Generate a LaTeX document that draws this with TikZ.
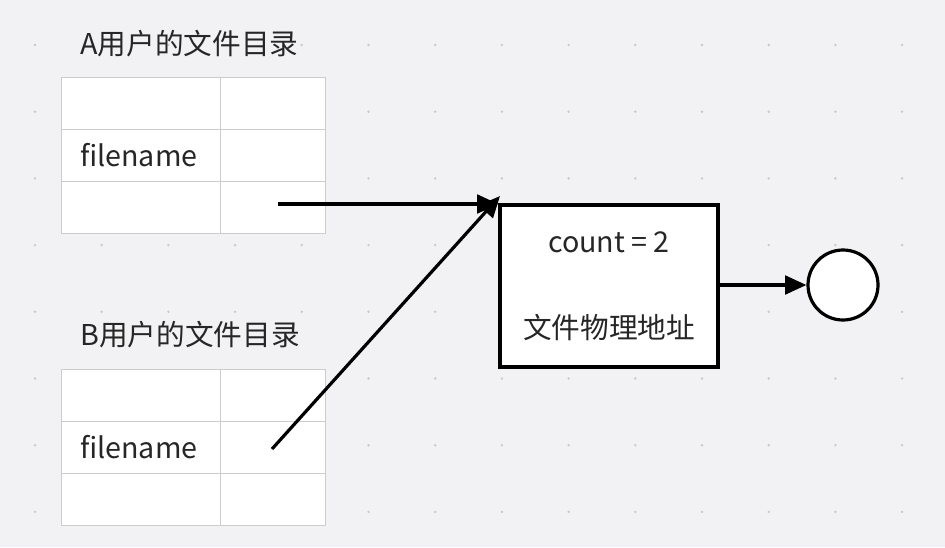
\documentclass[tikz,border=0pt]{standalone}
\usepackage{fontspec}
\setmainfont{Noto Sans CJK SC}
\usetikzlibrary{arrows.meta}
\definecolor{bg}{HTML}{F2F2F4}
\definecolor{grid}{HTML}{CCCCCC}
\definecolor{dotc}{HTML}{C8C8CC}
\tikzset{
  cell/.style={draw=grid,line width=0.75pt},
  lbl/.style={font=\fontsize{21.5}{24}\selectfont,text=black!85,inner sep=0pt},
  conn/.style={line width=2.4pt,-{Triangle[length=16pt,width=14pt]}},
}
\begin{document}
\begin{tikzpicture}[x=0.75pt,y=-0.75pt]
\fill[bg] (0,0) rectangle (945,547);
\useasboundingbox (0,0) rectangle (945,547);
\foreach \i in {0,...,13}{\foreach \j in {0,...,7}{
  \fill[dotc] (35+66.7*\i,45+66.7*\j) circle (1pt);}}
% table A
\fill[white] (61,77) rectangle (325,233);
\draw[cell] (61,77) rectangle (325,233);
\draw[cell] (220,77) -- (220,233) (61,129) -- (325,129) (61,181) -- (325,181);
\node[lbl,anchor=west] (ta) at (80,44) {A用户的文件目录};
\node[lbl,anchor=west] (fa) at (80,155) {filename};
\coordinate (sa) at (278,204);
% table B
\fill[white] (61,369) rectangle (325,525);
\draw[cell] (61,369) rectangle (325,525);
\draw[cell] (220,369) -- (220,525) (61,421) -- (325,421) (61,473) -- (325,473);
\node[lbl,anchor=west] (tb) at (80,335) {B用户的文件目录};
\node[lbl,anchor=west] (fb) at (80,447) {filename};
\coordinate (sb) at (272,449);
% box
\node[draw=black,line width=2.4pt,fill=white,minimum width=218*0.75pt,minimum height=162*0.75pt,inner sep=0pt] (box) at (609,286) {};
\node[lbl] (cnt) at (609,242) {count = 2};
\node[lbl] (addr) at (609,327) {文件物理地址};
\node[draw=black,line width=2.4pt,fill=white,circle,minimum size=70*0.75pt,inner sep=0pt] (c) at (843,285) {};
\draw[conn] (sa) -- (box.west |- sa);
\draw[conn] (sb) -- (500,196);
\draw[conn] (box.east |- c) -- (c.west);
\end{tikzpicture}
\end{document}
